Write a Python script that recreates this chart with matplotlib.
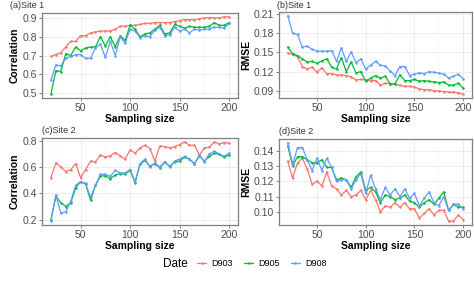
import numpy as np
import matplotlib
matplotlib.use("Agg")
import matplotlib.pyplot as plt
from matplotlib.lines import Line2D

plt.rcParams['font.family'] = ['Liberation Sans', 'DejaVu Sans']

# sampling sizes 20..200 step 5
sizes = list(range(20, 205, 5))
dates = ['D903', 'D905', 'D908']
colors = ['#F8766D', '#00BA38', '#619CFF']

# (a) Site 1 correlation
corr1_d903 = [0.695, 0.705, 0.715, 0.745, 0.775, 0.775, 0.805, 0.805, 0.82, 0.825, 0.83, 0.83, 0.83,
              0.84, 0.855, 0.855, 0.86, 0.86, 0.865, 0.87, 0.87, 0.875, 0.875, 0.875, 0.875, 0.88,
              0.885, 0.89, 0.89, 0.89, 0.895, 0.90, 0.90, 0.90, 0.90, 0.905, 0.905]
corr1_d905 = [0.495, 0.62, 0.615, 0.71, 0.70, 0.745, 0.725, 0.74, 0.745, 0.745, 0.80, 0.75, 0.80,
              0.745, 0.805, 0.78, 0.86, 0.84, 0.80, 0.815, 0.82, 0.84, 0.86, 0.815, 0.82, 0.865,
              0.855, 0.845, 0.855, 0.85, 0.85, 0.85, 0.855, 0.875, 0.86, 0.86, 0.875]
corr1_d908 = [0.57, 0.65, 0.645, 0.685, 0.695, 0.705, 0.705, 0.685, 0.685, 0.74, 0.76, 0.69, 0.775,
              0.70, 0.80, 0.765, 0.84, 0.83, 0.795, 0.805, 0.80, 0.835, 0.85, 0.805, 0.81, 0.85,
              0.83, 0.84, 0.82, 0.84, 0.835, 0.84, 0.84, 0.85, 0.85, 0.845, 0.87]

# (b) Site 1 RMSE
rmse1_d903 = [0.149, 0.147, 0.143, 0.128, 0.124, 0.127, 0.119, 0.126, 0.117, 0.117, 0.115, 0.115,
              0.114, 0.112, 0.107, 0.108, 0.107, 0.106, 0.106, 0.099, 0.102, 0.101, 0.100, 0.099,
              0.097, 0.097, 0.096, 0.093, 0.092, 0.092, 0.090, 0.090, 0.089, 0.088, 0.088, 0.087, 0.085]
rmse1_d905 = [0.158, 0.148, 0.145, 0.140, 0.135, 0.136, 0.133, 0.137, 0.140, 0.127, 0.124, 0.142,
              0.120, 0.135, 0.118, 0.120, 0.105, 0.110, 0.114, 0.110, 0.113, 0.101, 0.101, 0.115,
              0.106, 0.106, 0.108, 0.105, 0.106, 0.105, 0.104, 0.103, 0.104, 0.099, 0.099, 0.102, 0.094]
rmse1_d908 = [0.207, 0.180, 0.178, 0.158, 0.160, 0.155, 0.152, 0.152, 0.152, 0.153, 0.136, 0.157,
              0.136, 0.151, 0.134, 0.140, 0.124, 0.130, 0.136, 0.130, 0.129, 0.121, 0.114, 0.128,
              0.128, 0.114, 0.116, 0.118, 0.117, 0.120, 0.119, 0.118, 0.116, 0.110, 0.113, 0.116, 0.109]

# (c) Site 2 correlation
corr2_d903 = [0.52, 0.63, 0.60, 0.565, 0.58, 0.625, 0.52, 0.58, 0.645, 0.64, 0.69, 0.675, 0.685,
              0.71, 0.685, 0.66, 0.73, 0.705, 0.745, 0.765, 0.74, 0.645, 0.76, 0.755, 0.745, 0.755,
              0.77, 0.79, 0.765, 0.765, 0.69, 0.745, 0.75, 0.79, 0.775, 0.785, 0.78]
corr2_d905 = [0.20, 0.375, 0.33, 0.30, 0.33, 0.44, 0.49, 0.47, 0.35, 0.46, 0.53, 0.535, 0.51,
              0.54, 0.55, 0.545, 0.575, 0.48, 0.62, 0.65, 0.605, 0.625, 0.595, 0.635, 0.605, 0.64,
              0.645, 0.675, 0.66, 0.625, 0.685, 0.645, 0.68, 0.705, 0.695, 0.675, 0.69]
corr2_d908 = [0.19, 0.39, 0.25, 0.26, 0.34, 0.46, 0.49, 0.475, 0.37, 0.46, 0.545, 0.545, 0.53,
              0.575, 0.555, 0.555, 0.58, 0.49, 0.625, 0.66, 0.60, 0.63, 0.60, 0.64, 0.60, 0.645,
              0.66, 0.68, 0.66, 0.62, 0.69, 0.64, 0.70, 0.72, 0.70, 0.68, 0.705]

# (d) Site 2 RMSE
rmse2_d903 = [0.133, 0.122, 0.132, 0.135, 0.128, 0.118, 0.120, 0.117, 0.126, 0.117, 0.115, 0.111,
              0.114, 0.110, 0.111, 0.114, 0.108, 0.114, 0.108, 0.100, 0.104, 0.103, 0.106, 0.103,
              0.106, 0.102, 0.102, 0.096, 0.099, 0.102, 0.098, 0.101, 0.101, 0.094, 0.094, 0.098, 0.095]
rmse2_d905 = [0.143, 0.130, 0.136, 0.136, 0.134, 0.132, 0.132, 0.134, 0.129, 0.129, 0.121, 0.122,
              0.121, 0.116, 0.123, 0.126, 0.114, 0.116, 0.113, 0.106, 0.111, 0.110, 0.108, 0.109,
              0.111, 0.107, 0.106, 0.103, 0.106, 0.108, 0.105, 0.109, 0.113, 0.101, 0.105, 0.103, 0.103]
rmse2_d908 = [0.145, 0.131, 0.142, 0.142, 0.134, 0.127, 0.135, 0.127, 0.135, 0.129, 0.120, 0.121,
              0.121, 0.115, 0.121, 0.125, 0.112, 0.124, 0.115, 0.108, 0.116, 0.111, 0.115, 0.110,
              0.115, 0.109, 0.112, 0.104, 0.109, 0.113, 0.106, 0.104, 0.110, 0.101, 0.105, 0.105, 0.102]

panels = [
    ('(a)Site 1', 'Correlation', [corr1_d903, corr1_d905, corr1_d908], [0.5, 0.6, 0.7, 0.8, 0.9], '%.1f'),
    ('(b)Site 1', 'RMSE', [rmse1_d903, rmse1_d905, rmse1_d908], [0.09, 0.12, 0.15, 0.18, 0.21], '%.2f'),
    ('(c)Site 2', 'Correlation', [corr2_d903, corr2_d905, corr2_d908], [0.2, 0.4, 0.6, 0.8], '%.1f'),
    ('(d)Site 2', 'RMSE', [rmse2_d903, rmse2_d905, rmse2_d908], [0.10, 0.11, 0.12, 0.13, 0.14], '%.2f'),
]

W, H = 474, 284
fig = plt.figure(figsize=(W / 100, H / 100), dpi=100)

# axes boxes in pixels: left, top, right, bottom
boxes = [(42, 13, 238, 98), (279, 12, 472, 98), (42, 138, 238, 225), (279, 139, 472, 225)]
title_x = [10, 277, 42, 279]

for i, (title, ylab, series, yticks, fmt) in enumerate(panels):
    l, t, r, b = boxes[i]
    ax = fig.add_axes([l / W, 1 - b / H, (r - l) / W, (b - t) / H])
    for vals, c in zip(series, colors):
        ax.plot(sizes, vals, color=c, lw=0.9, marker='o', ms=1.8, mew=0)
    allv = np.concatenate([np.array(s) for s in series])
    lo, hi = allv.min(), allv.max()
    pad = (hi - lo) * 0.05
    ax.set_ylim(lo - pad, hi + pad)
    ax.set_xlim(20 - 9, 200 + 9)
    ax.set_xticks([50, 100, 150, 200])
    ax.set_xticks([25, 75, 125, 175], minor=True)
    ax.set_yticks(yticks)
    ax.yaxis.set_major_formatter(matplotlib.ticker.FormatStrFormatter(fmt))
    ax.grid(True, which='major', color='#e6e6e6', lw=0.5)
    ax.grid(True, which='minor', color='#f2f2f2', lw=0.3)
    ax.set_axisbelow(True)
    for sp in ax.spines.values():
        sp.set_color('#7f7f7f')
        sp.set_linewidth(0.9)
    ax.tick_params(which='major', length=2, width=0.5, color='#555555',
                   labelsize=7.5, labelcolor='#4d4d4d', pad=1.5)
    ax.tick_params(which='minor', length=0)
    ax.set_xlabel('Sampling size', fontsize=7.5, fontweight='bold', labelpad=1)
    ax.set_ylabel(ylab, fontsize=7.5, fontweight='bold', labelpad=2)
    fig.text(title_x[i] / W, 1 - (t - 7) / H, title, fontsize=6.5, color='#333333', va='center', ha='left')

# legend at bottom, title placed inline to the left of the keys
handles = [Line2D([0], [0], color=c, lw=0.9, marker='o', ms=1.8, mew=0) for c in colors]
leg = fig.legend(handles, dates, loc='center', bbox_to_anchor=(262 / W, 1 - 264 / H),
                 ncol=3, frameon=False, fontsize=6.5, handlelength=1.0, handletextpad=0.6,
                 columnspacing=1.2)
fig.text(163 / W, 1 - 264 / H, 'Date', fontsize=8.5, va='center', ha='left')

fig.savefig('out.png', dpi=100)
